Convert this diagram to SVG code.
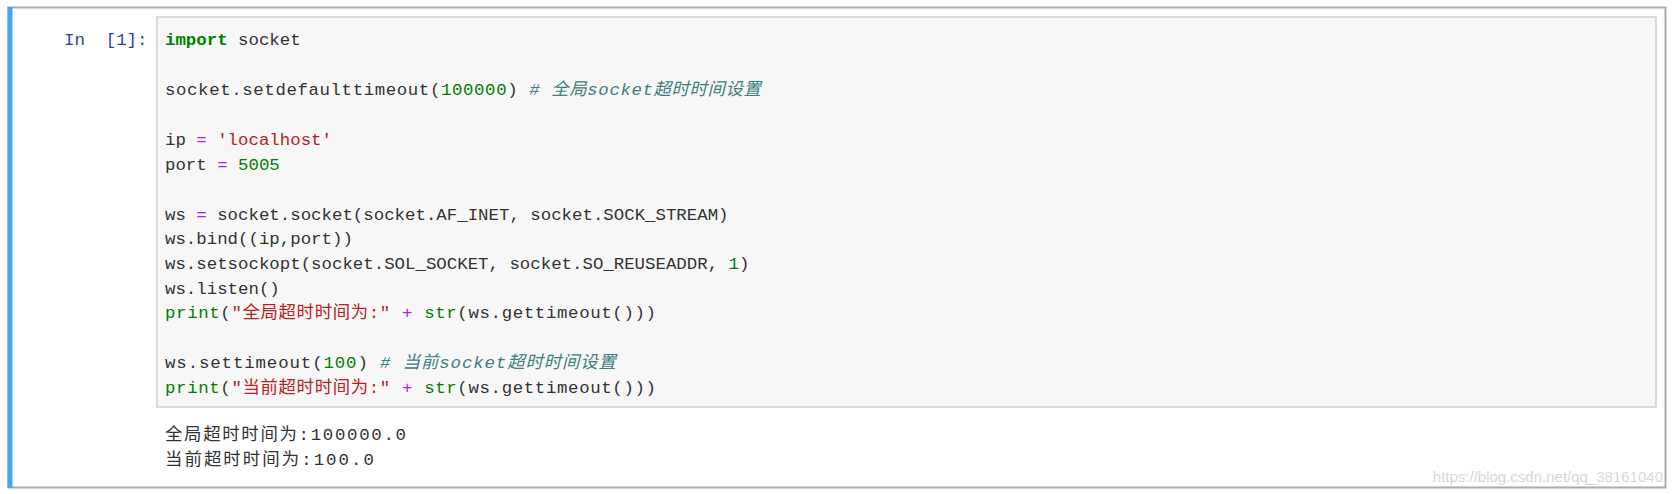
<svg xmlns="http://www.w3.org/2000/svg" width="1676" height="494" viewBox="0 0 1676 494">
<style>
.c{font-family:"Liberation Mono","Noto Sans CJK SC",monospace;font-size:17.4px;fill:#333}
.k{fill:#008000;font-weight:bold}.s{fill:#BA2121}.n{fill:#008000}.o{fill:#AA22FF}.m{fill:#408080;font-style:italic}.b{fill:#008000}
</style>
<g id="cell">
<rect x="8.5" y="7.5" width="1657" height="480" fill="#fff" stroke="#ababab" stroke-width="2"/>
<rect x="7.5" y="7" width="5" height="481" fill="#42A5F5"/>
</g>
<g id="prompt"><text x="64" y="44.5" class="c" style="fill:#303F9F">In &#160;[1]:</text></g>
<g id="code">
<rect x="157" y="17" width="1499" height="390" fill="#f7f7f7" stroke="#cfcfcf" stroke-width="1.5"/>
<g class="c">
<text x="165" y="44.5"><tspan class="k">import</tspan> socket</text>
<text x="165" y="94.7" textLength="596" lengthAdjust="spacing">socket.setdefaulttimeout(<tspan class="n">100000</tspan>) <tspan class="m"># 全局socket超时时间设置</tspan></text>
<text x="165" y="145">ip <tspan class="o">=</tspan> <tspan class="s">'localhost'</tspan></text>
<text x="165" y="169.5">port <tspan class="o">=</tspan> <tspan class="n">5005</tspan></text>
<text x="165" y="219.8">ws <tspan class="o">=</tspan> socket.socket(socket.AF_INET, socket.SOCK_STREAM)</text>
<text x="165" y="244.4">ws.bind((ip,port))</text>
<text x="165" y="269">ws.setsockopt(socket.SOL_SOCKET, socket.SO_REUSEADDR, <tspan class="n">1</tspan>)</text>
<text x="165" y="293.5">ws.listen()</text>
<text x="165" y="318" textLength="491" lengthAdjust="spacing"><tspan class="b">print</tspan>(<tspan class="s">"全局超时时间为:"</tspan> <tspan class="o">+</tspan> <tspan class="b">str</tspan>(ws.gettimeout()))</text>
<text x="165" y="368.4" textLength="451" lengthAdjust="spacing">ws.settimeout(<tspan class="n">100</tspan>) <tspan class="m"># 当前socket超时时间设置</tspan></text>
<text x="165" y="393" textLength="491" lengthAdjust="spacing"><tspan class="b">print</tspan>(<tspan class="s">"当前超时时间为:"</tspan> <tspan class="o">+</tspan> <tspan class="b">str</tspan>(ws.gettimeout()))</text>
</g>
</g>
<g id="output" class="c">
<text x="165" y="440" textLength="241" lengthAdjust="spacing">全局超时时间为:100000.0</text>
<text x="165" y="464.6" textLength="209" lengthAdjust="spacing">当前超时时间为:100.0</text>
</g>
<text x="1663" y="482" text-anchor="end" style="font-family:'Liberation Sans',sans-serif;font-size:15px;fill:#d8d8d8">https://blog.csdn.net/qq_38161040</text>
</svg>
